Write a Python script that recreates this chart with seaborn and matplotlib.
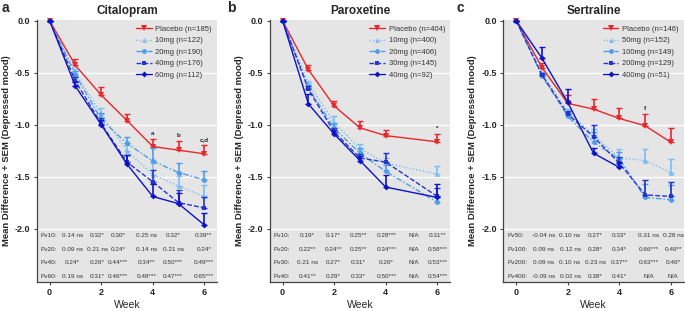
import numpy as np
import pandas as pd
import matplotlib
matplotlib.use("Agg")
import matplotlib.pyplot as plt
import seaborn as sns

sns.set_theme(style="white")
plt.rcParams['font.family'] = ['Liberation Sans', 'DejaVu Sans']

nan = np.nan
weeks = [0, 1, 2, 3, 4, 5, 6]

# ---------------- Citalopram ----------------
cit_labels = ["Placebo (n=185)", "10mg (n=122)", "20mg (n=190)", "40mg (n=176)", "60mg (n=112)"]
cit_placebo = [0, -0.43, -0.715, -0.96, -1.21, -1.245, -1.28]
cit_10 = [0, -0.50, -0.90, -1.25, -1.48, -1.59, -1.69]
cit_20 = [0, -0.52, -0.95, -1.18, -1.35, -1.46, -1.53]
cit_40 = [0, -0.58, -0.99, -1.36, -1.55, -1.75, -1.80]
cit_60 = [0, -0.63, -1.00, -1.38, -1.69, -1.76, -1.965]
cit_placebo_sem = [0, 0.06, 0.075, 0.06, 0.07, 0.085, 0.08]
cit_10_sem = [0, 0.04, 0.06, 0.05, 0.11, 0.10, 0.11]
cit_20_sem = [0, 0.04, 0.06, 0.065, 0.13, 0.095, 0.085]
cit_40_sem = [0, 0.04, 0.05, 0.07, 0.11, 0.12, 0.10]
cit_60_sem = [0, 0.04, 0.05, 0.09, 0.12, 0.10, 0.12]
cit_rows = ["Pv10:", "Pv20:", "Pv40:", "Pv60:"]
cit_table = [
    ["0.14 ns", "0.32*", "0.30*", "0.25 ns", "0.32*", "0.39**"],
    ["0.09 ns", "0.21 ns", "0.24*", "0.14 ns", "0.21 ns", "0.24*"],
    ["0.24*", "0.26*", "0.44***", "0.34**", "0.50***", "0.49***"],
    ["0.19 ns", "0.31*", "0.46***", "0.48***", "0.47***", "0.65***"],
]
cit_notes = {4: "a", 5: "b", 6: "c,d"}

# ---------------- Paroxetine ----------------
par_labels = ["Placebo (n=404)", "10mg (n=400)", "20mg (n=406)", "30mg (n=145)", "40mg (n=92)"]
par_placebo = [0, -0.47, -0.82, -1.03, -1.105, nan, -1.165]
par_10 = [0, -0.60, -0.98, -1.23, -1.37, nan, -1.475]
par_20 = [0, -0.645, -1.035, -1.275, -1.45, nan, -1.745]
par_30 = [0, -0.66, -1.07, -1.32, -1.36, nan, -1.69]
par_40 = [0, -0.80, -1.09, -1.345, -1.60, nan, -1.70]
par_placebo_sem = [0, 0.04, 0.05, 0.065, 0.055, nan, 0.075]
par_10_sem = [0, 0.025, 0.06, 0.04, 0.05, nan, 0.08]
par_20_sem = [0, 0.03, 0.05, 0.05, 0.06, nan, 0.05]
par_30_sem = [0, 0.03, 0.04, 0.04, 0.09, nan, 0.08]
par_40_sem = [0, 0.10, 0.04, 0.04, 0.12, nan, 0.13]
par_rows = ["Pv10:", "Pv20:", "Pv30:", "Pv40:"]
par_table = [
    ["0.19*", "0.17*", "0.25**", "0.28***", "N/A", "0.31**"],
    ["0.22**", "0.24**", "0.25**", "0.34***", "N/A", "0.58***"],
    ["0.21 ns", "0.27*", "0.31*", "0.26*", "N/A", "0.53***"],
    ["0.41**", "0.29*", "0.33*", "0.50***", "N/A", "0.54***"],
]
par_notes = {6: "*"}

# ---------------- Sertraline ----------------
ser_labels = ["Placebo (n=146)", "50mg (n=152)", "100mg (n=149)", "200mg (n=129)", "400mg (n=51)"]
ser_placebo = [0, -0.45, -0.795, -0.85, -0.94, -1.01, -1.17]
ser_50 = [0, -0.51, -0.875, -1.10, -1.32, -1.345, -1.46]
ser_100 = [0, -0.53, -0.92, -1.17, -1.33, -1.70, -1.72]
ser_200 = [0, -0.52, -0.90, -1.115, -1.37, -1.675, -1.69]
ser_400 = [0, -0.36, -0.785, -1.275, -1.41, nan, nan]
ser_placebo_sem = [0, 0.04, 0.08, 0.095, 0.10, 0.115, 0.135]
ser_50_sem = [0, 0.02, 0.03, 0.06, 0.09, 0.115, 0.13]
ser_100_sem = [0, 0.02, 0.03, 0.10, 0.07, 0.13, 0.14]
ser_200_sem = [0, 0.02, 0.03, 0.11, 0.06, 0.14, 0.14]
ser_400_sem = [0, 0.11, 0.13, 0.05, 0.05, nan, nan]
ser_rows = ["Pv50:", "Pv100:", "Pv200:", "Pv400:"]
ser_table = [
    ["-0.04 ns", "0.10 ns", "0.27*", "0.33*", "0.31 ns", "0.28 ns"],
    ["0.09 ns", "0.12 ns", "0.28*", "0.34*", "0.66***", "0.49**"],
    ["0.09 ns", "0.10 ns", "0.23 ns", "0.37**", "0.63***", "0.46*"],
    ["-0.09 ns", "0.02 ns", "0.38*", "0.41*", "N/A", "N/A"],
]
ser_notes = {5: "f"}

# styles (one per series position)
colors = ["#e8262c", "#7dbcf2", "#4d9de8", "#2436cf", "#0d12c4"]
markers = ["v", "^", "o", "s", "D"]
lstyles = ["-", (0, (1, 1.5)), (0, (4, 1.5, 1, 1.5)), (0, (3.5, 1.5)), "-"]
msizes = [4, 3.5, 3.5, 3, 3]

panels = [
    ("a", "Citalopram", cit_labels,
     [cit_placebo, cit_10, cit_20, cit_40, cit_60],
     [cit_placebo_sem, cit_10_sem, cit_20_sem, cit_40_sem, cit_60_sem],
     cit_rows, cit_table, cit_notes, [0.88, 1.84, 2.66, 3.75, 4.79, 5.98], -0.175),
    ("b", "Paroxetine", par_labels,
     [par_placebo, par_10, par_20, par_30, par_40],
     [par_placebo_sem, par_10_sem, par_20_sem, par_30_sem, par_40_sem],
     par_rows, par_table, par_notes, [0.97, 1.98, 2.95, 4.03, 5.1, 6.0], -0.21),
    ("c", "Sertraline", ser_labels,
     [ser_placebo, ser_50, ser_100, ser_200, ser_400],
     [ser_placebo_sem, ser_50_sem, ser_100_sem, ser_200_sem, ser_400_sem],
     ser_rows, ser_table, ser_notes, [1.05, 2.09, 3.06, 3.99, 5.15, 6.08], -0.24),
]

fig = plt.figure(figsize=(6.85, 3.11), dpi=100)
lefts = [0.0536, 0.3937, 0.7347]
width = 0.2636
bottom, height = 0.0942, 0.8415
row_y = [-2.07, -2.20, -2.33, -2.46]

for (letter, title, labels, series, sems, rows, table, notes, colx, letx), left in zip(panels, lefts):
    ax = fig.add_axes([left, bottom, width, height])
    ax.set_facecolor("#e5e5e5")
    for yg in [-0.5, -1.0, -1.5, -2.0]:
        ax.axhline(yg, color="white", lw=1.0, zorder=0.5)

    for i, (lab, vals, sem) in enumerate(zip(labels, series, sems)):
        df = pd.DataFrame({"week": weeks, "value": vals, "sem": sem}).dropna()
        sns.lineplot(data=df, x="week", y="value", ax=ax, color=colors[i],
                     marker=markers[i], markersize=msizes[i], markeredgewidth=0,
                     linestyle=lstyles[i], linewidth=1.0, label=lab, zorder=3 + i * 0.1,
                     clip_on=False)
        ax.errorbar(df["week"], df["value"], yerr=[np.zeros(len(df)), df["sem"]],
                    fmt="none", ecolor=colors[i], elinewidth=1.2, capsize=2.2,
                    capthick=1.0, zorder=3 + i * 0.1)

    # significance notes above placebo
    pl_vals, pl_sem = series[0], sems[0]
    for wk, txt in notes.items():
        ax.text(wk, pl_vals[wk] + pl_sem[wk] + 0.03, txt, ha="center", va="bottom",
                fontsize=4.5, fontweight="bold", color="#222222")

    # effect size table
    for r, (rlab, rvals) in enumerate(zip(rows, table)):
        ax.text(-0.35, row_y[r], rlab, ha="left", va="center", fontsize=4.6, color="#333333")
        for c, txt in enumerate(rvals):
            ax.text(colx[c], row_y[r], txt, ha="center", va="center", fontsize=4.6, color="#333333")

    ax.set_xlim(-0.5, 6.5)
    ax.set_ylim(-2.51, 0.007)
    ax.set_xticks([0, 2, 4, 6])
    ax.set_yticks([0.0, -0.5, -1.0, -1.5, -2.0])
    ax.set_yticklabels(["0.0", "-0.5", "-1.0", "-1.5", "-2.0"])
    ax.tick_params(axis="both", labelsize=6.5, length=2.5, width=0.8, color="#444444",
                   direction="out", pad=2, left=True, bottom=True)
    for t in ax.get_xticklabels() + ax.get_yticklabels():
        t.set_fontweight("bold")
    for s in ["top", "right"]:
        ax.spines[s].set_visible(False)
    for s in ["left", "bottom"]:
        ax.spines[s].set_color("#444444")
        ax.spines[s].set_linewidth(0.9)
    ax.set_xlabel("Week", fontsize=7.5, labelpad=2)
    ax.set_ylabel("Mean Difference + SEM (Depressed mood)", fontsize=6.8, fontweight="bold", labelpad=3)
    ax.set_title(title, fontsize=8.5, fontweight="bold", pad=4)
    ax.text(letx, 1.046, letter, transform=ax.transAxes, fontsize=10, fontweight="bold",
            ha="center", va="center")

    leg = ax.legend(loc="upper right", fontsize=5.5, frameon=False, handlelength=2.0,
                    handletextpad=0.5, labelspacing=0.55, borderaxespad=0.3)
    for txt in leg.get_texts():
        txt.set_color("#333333")

fig.savefig("out.png", dpi=100)
